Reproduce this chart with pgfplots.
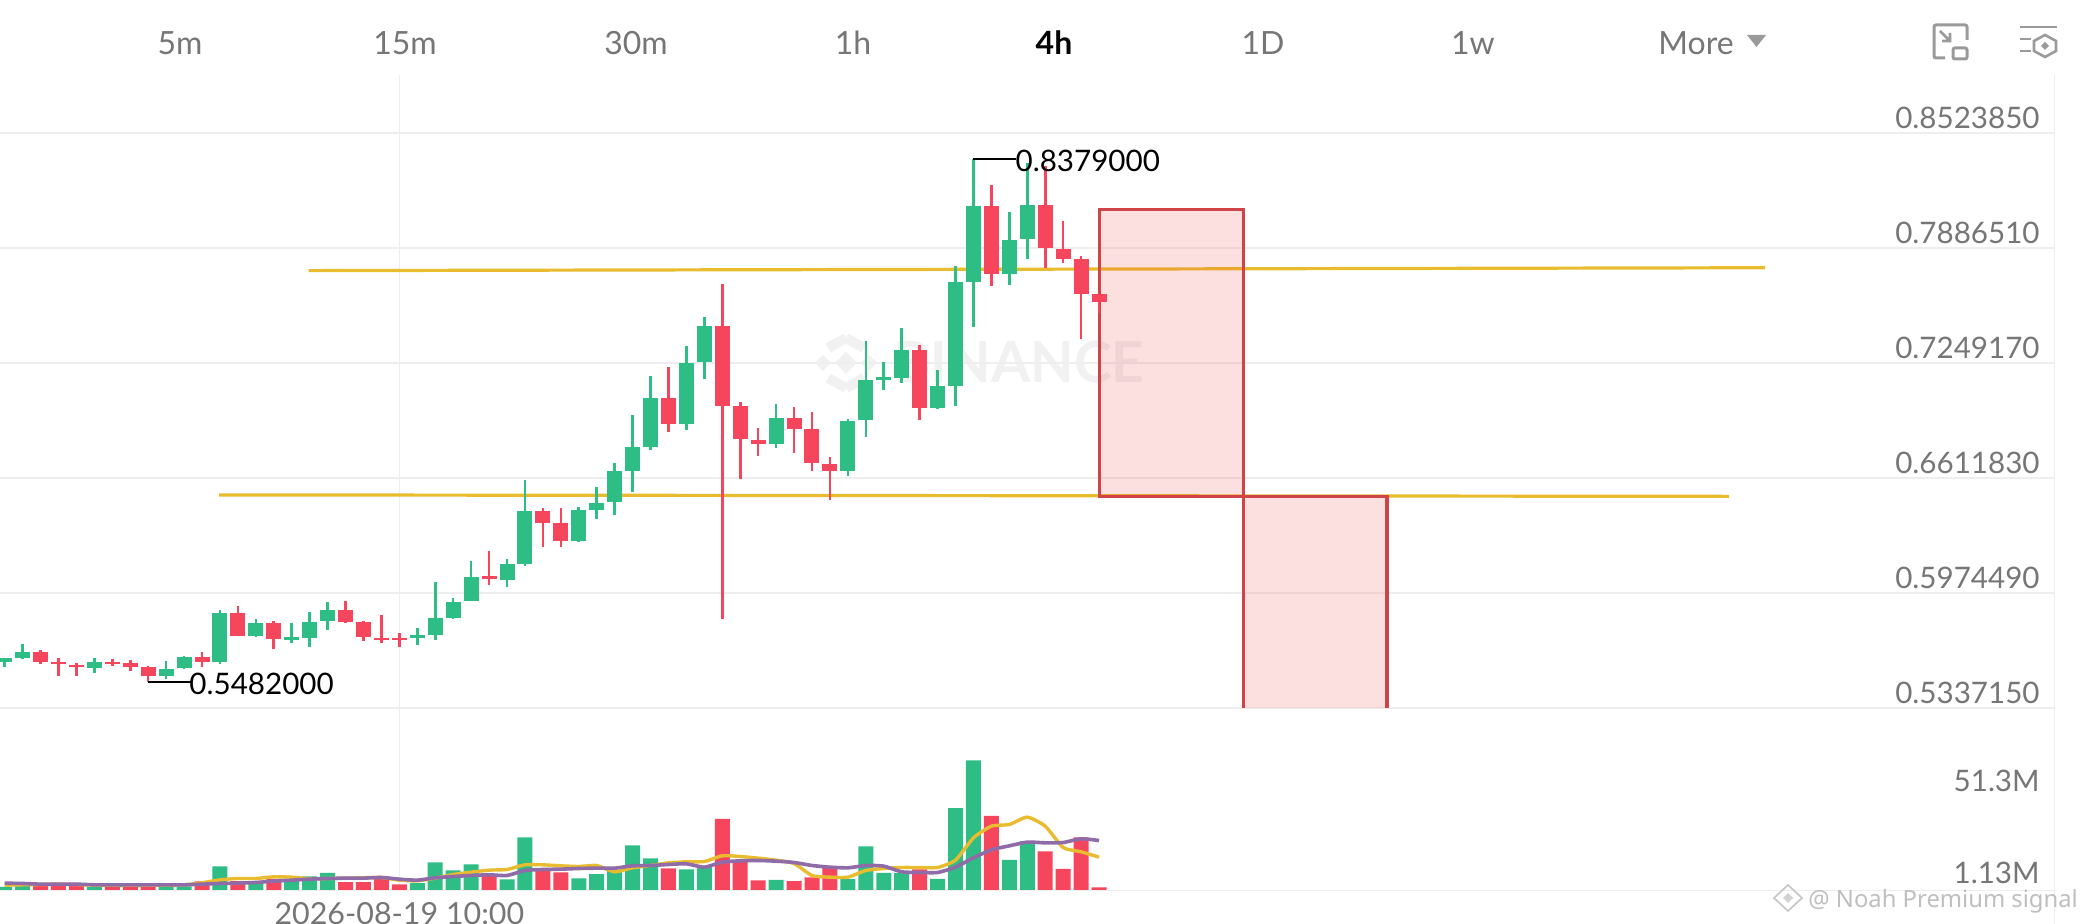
\documentclass[border=0pt]{standalone}
\usepackage{pgfplots}
\usepackage{pgfplotstable}
\pgfplotsset{compat=1.18}
\usepackage{fontspec}
\setmainfont{Lato}
\newfontfamily\wmfont{Noto Sans}
\definecolor{cgreen}{HTML}{2EBD85}
\definecolor{cred}{HTML}{F6465D}
\definecolor{cgold}{HTML}{E9BC2F}
\definecolor{cpurple}{HTML}{8F6BA8}
\definecolor{cgrid}{HTML}{EEEEF0}
\definecolor{clabel}{HTML}{767676}
\definecolor{crect}{HTML}{CF4547}
\definecolor{crfill}{HTML}{F04040}
\definecolor{cwm}{HTML}{F1F1F2}
\definecolor{cicon}{HTML}{9A9A9A}

\pgfplotstableread{
x o h l c
0 .5590 .5612 .5566 .5612
1 .5612 .5690 .5607 .5646
5 .5559 .5612 .5533 .5594
9 .5516 .5598 .5498 .5553
10 .5557 .5627 .5551 .5622
12 .5594 .5878 .5581 .5864
14 .5738 .5832 .5732 .5806
16 .5716 .5808 .5697 .5729
17 .5725 .5867 .5677 .5816
18 .5821 .5923 .5769 .5878
23 .5727 .5779 .5686 .5740
24 .5742 .6035 .5714 .5836
25 .5838 .5945 .5830 .5926
26 .5930 .6154 .5928 .6065
28 .6048 .6161 .6006 .6135
29 .6135 .6601 .6124 .6429
32 .6261 .6451 .6257 .6433
33 .6435 .6560 .6385 .6475
34 .6479 .6697 .6407 .6649
35 .6651 .6959 .6536 .6782
36 .6784 .7179 .6765 .7057
38 .6911 .7343 .6880 .7251
39 .7253 .7504 .7161 .7454
43 .6798 .7024 .6776 .6943
47 .6651 .6937 .6625 .6926
48 .6931 .7369 .6839 .7155
49 .7157 .7253 .7098 .7172
50 .7164 .7441 .7138 .7319
52 .6998 .7210 .6996 .7120
53 .7124 .7787 .7009 .7698
54 .7700 .8379 .7451 .8119
56 .7741 .8084 .7683 .7929
57 .7935 .8356 .7824 .8123
}\greencandles
\pgfplotstableread{
x o h l c
2 .5646 .5659 .5581 .5594
3 .5590 .5612 .5514 .5579
4 .5575 .5585 .5514 .5563
6 .5594 .5607 .5568 .5583
7 .5585 .5603 .5544 .5566
8 .5564 .5568 .5482 .5516
11 .5622 .5648 .5563 .5592
13 .5864 .5902 .5738 .5738
15 .5806 .5821 .5662 .5718
19 .5878 .5932 .5810 .5816
20 .5814 .5817 .5708 .5729
21 .5727 .5854 .5699 .5714
22 .5725 .5751 .5673 .5712
27 .6067 .6209 .6019 .6050
30 .6427 .6446 .6228 .6364
31 .6362 .6446 .6231 .6263
37 .7057 .7225 .6869 .6911
40 .7454 .7685 .5832 .7013
41 .7013 .7031 .6608 .6826
42 .6822 .6891 .6734 .6800
44 .6943 .7007 .6752 .6885
45 .6883 .6976 .6652 .6695
46 .6691 .6726 .6490 .6651
51 .7319 .7347 .6935 .6998
55 .8121 .8234 .7678 .7741
58 .8123 .8340 .7774 .7885
59 .7881 .8034 .7805 .7826
60 .7824 .7840 .7382 .7633
61 .7632 .7632 .7524 .7587
}\redcandles
\pgfplotstableread{
x v
0 3.13
1 3.86
5 2.95
9 3.31
10 3.31
12 14.22
14 5.31
16 6.22
17 8.76
18 10.76
23 5.13
24 16.40
25 12.04
26 15.31
28 7.13
29 30.03
32 7.67
33 10.04
34 12.22
35 25.67
36 18.58
38 12.58
39 14.04
43 6.95
47 7.31
48 25.12
49 10.76
50 10.58
52 7.49
53 46.03
54 72.02
56 17.85
57 28.03
}\greenvol
\pgfplotstableread{
x v
2 3.49
3 4.77
4 4.04
6 2.95
7 3.31
8 3.31
11 6.04
13 6.22
15 7.49
19 5.67
20 5.67
21 8.04
22 4.40
27 10.22
30 11.67
31 10.95
37 13.13
40 40.21
41 17.49
42 6.58
44 6.22
45 8.22
46 13.31
51 12.58
55 41.85
58 22.40
59 12.95
60 30.03
61 2.77
}\redvol
\pgfplotstableread{
x a b
0 4.04 5.13
1 4.22 4.95
2 4.40 4.58
3 4.58 4.58
4 4.40 4.58
5 4.04 4.22
6 4.04 4.22
7 4.04 4.22
8 4.04 4.22
9 4.04 4.22
10 4.22 4.22
11 5.31 4.58
12 6.95 4.95
13 7.67 5.13
14 7.67 5.49
15 8.58 6.22
16 8.40 6.76
17 7.49 7.31
18 7.67 7.67
19 7.86 7.86
20 8.04 7.86
21 8.22 8.22
22 6.76 7.31
23 6.40 6.76
24 7.86 8.04
25 9.85 8.76
26 11.13 9.31
27 12.22 9.67
28 12.58 9.31
29 15.13 12.04
30 15.13 12.58
31 14.58 12.76
32 14.22 13.13
33 14.76 13.31
34 11.31 13.31
35 13.49 14.58
36 14.76 14.76
37 16.22 15.31
38 16.76 15.67
39 16.94 13.85
40 20.03 16.58
41 19.67 17.31
42 18.76 17.49
43 17.67 17.13
44 15.85 16.40
45 9.31 14.76
46 8.40 13.85
47 8.40 13.49
48 12.04 14.76
49 13.13 14.40
50 13.67 11.31
51 13.67 10.95
52 13.67 10.95
53 17.67 13.85
54 29.85 18.94
55 36.21 23.31
56 37.12 25.49
57 41.12 27.49
58 36.21 27.12
59 24.58 27.30
60 22.22 29.30
61 19.31 28.40
}\maltable

\newcommand{\candleset}[2]{%
  \addplot[forget plot, draw=none, mark=none,
    error bars/.cd, y dir=both, y explicit, error mark=none,
    error bar style={line width=1.3pt, #2}]
    table[x=x, y expr=(\thisrow{h}+\thisrow{l})/2, y error expr=(\thisrow{h}-\thisrow{l})/2] {#1};
  \addplot[forget plot, draw=none, mark=none,
    error bars/.cd, y dir=both, y explicit, error mark=none,
    error bar style={line width=7.5pt, #2}]
    table[x=x, y expr=(\thisrow{o}+\thisrow{c})/2, y error expr=abs(\thisrow{o}-\thisrow{c})/2] {#1};
}
\pgfplotsset{
  paneaxis/.style={
    scale only axis, width=1027pt, xmin=-0.26, xmax=114.23,
    axis line style={draw=none}, major tick length=0pt, xtick={22},
    xmajorgrids, major grid style={cgrid, line width=0.8pt},
    yticklabel pos=right,
    tick label style={font=\fontsize{14.8}{16}\selectfont, text=clabel, inner sep=0pt},
  }
}

\begin{document}
\begin{tikzpicture}
\path[use as bounding box, fill=white] (0,0) rectangle (1042.5pt,462pt);

\begin{scope}[shift={(0pt,462pt)}, x=0.5pt, y=-0.5pt]
  % header
  \foreach \tx/\lbl in {180/5m,405/15m,636/30m,853/1h,1263/1D,1473/1w,1696/More}{
    \node[anchor=base, inner sep=0pt, text=clabel, font=\fontsize{16}{17}\selectfont] at (\tx,54.5) {\lbl};
  }
  \node[anchor=base, inner sep=0pt, font=\fontsize{16}{17}\selectfont\bfseries] at (1054,54.5) {4h};
  \fill[cicon] (1747,35) -- (1766,35) -- (1756.5,47) -- cycle;
  % icon 1
  \draw[cicon, line width=1.5pt, rounded corners=1pt] (1945,58) -- (1934,58) -- (1934,25) -- (1967,25) -- (1967,40);
  \draw[cicon, line width=1.5pt, rounded corners=1pt] (1953,48) rectangle (1967,59);
  \draw[cicon, line width=1.3pt] (1940,31) -- (1950,41) (1950,33) -- (1950,41) -- (1942,41);
  % icon 2
  \draw[cicon, line width=1.3pt] (2020,27) -- (2057,27) (2020,39) -- (2031,39) (2020,51) -- (2031,51);
  \draw[cicon, line width=1.3pt] (2045,35) -- (2056,41) -- (2056,51) -- (2045,57) -- (2034,51) -- (2034,41) -- cycle;
  \fill[cicon] (2045,42) -- (2049,46) -- (2045,50) -- (2041,46) -- cycle;
  % exchange watermark
  \begin{scope}[shift={(846,363)}]
    \fill[cwm] (0,-11) -- (11,0) -- (0,11) -- (-11,0) -- cycle;
    \fill[cwm] (-31,0) -- (-23,-8) -- (-15,0) -- (-23,8) -- cycle;
    \fill[cwm] (31,0) -- (23,-8) -- (15,0) -- (23,8) -- cycle;
    \draw[cwm, line width=5pt] (-18,-15) -- (0,-25) (0,-25) -- (18,-15);
    \draw[cwm, line width=5pt] (-18,15) -- (0,25) (0,25) -- (18,15);
  \end{scope}
  \node[anchor=base west, inner sep=0pt, text=cwm, font=\fontsize{28.3}{30}\selectfont\bfseries] at (893,383) {BINANCE};
  % pane edge
  \draw[cgrid, line width=0.8pt] (2054.5,75) -- (2054.5,924);
\end{scope}

% candle pane
\begin{axis}[paneaxis, at={(0pt,108pt)}, anchor=south west, height=316.5pt,
  ymin=0.533715, ymax=0.884529,
  ymajorgrids,
  ytick={0.533715,0.597449,0.661183,0.724917,0.788651,0.852385},
  yticklabels={0.5337150,0.5974490,0.6611830,0.7249170,0.7886510,0.8523850},
  yticklabel style={anchor=base east, xshift=-7pt, yshift=2pt},
  xticklabels={},
]
  \addplot[forget plot, cgold, line width=1.6pt] coordinates {(16.94,.7761) (98.12,.7777)};
  \addplot[forget plot, cgold, line width=1.6pt] coordinates {(11.95,.6518) (96.12,.6510)};
  \addplot[forget plot, draw=crect, line width=1.7pt, fill=crfill, fill opacity=0.16]
    coordinates {(61.04,.6509) (61.04,.8101) (69.04,.8101) (69.04,.6509)} -- cycle;
  \addplot[forget plot, draw=crect, line width=1.7pt, fill=crfill, fill opacity=0.16]
    coordinates {(69.04,.50) (69.04,.6509) (77.05,.6509) (77.05,.50)} -- cycle;
  \candleset{\greencandles}{cgreen}
  \candleset{\redcandles}{cred}
  \draw[black, line width=0.8pt] (axis cs:54,.8379) -- ++(21.5pt,0pt);
  \node[anchor=base west, inner sep=0pt, font=\fontsize{14.8}{16}\selectfont] at (axis cs:56.33,.8379) [yshift=-6pt] {0.8379000};
  \draw[black, line width=0.8pt] (axis cs:8,.5482) -- ++(21.5pt,0pt);
  \node[anchor=base west, inner sep=0pt, font=\fontsize{14.8}{16}\selectfont] at (axis cs:10.28,.5482) [yshift=-6.5pt] {0.5482000};
\end{axis}

% volume pane
\begin{axis}[paneaxis, at={(0pt,16.75pt)}, anchor=south west, height=91.25pt,
  ymin=1.13, ymax=100.65,
  ytick={1.13,51.3}, yticklabels={1.13M,51.3M},
  yticklabel style={anchor=base east, xshift=-7pt, yshift=3.4pt},
  xticklabels={2026-08-19 10:00},
  xticklabel style={anchor=base, yshift=-17pt, font=\fontsize{15.2}{16}\selectfont},
]
  \addplot[forget plot, ybar, bar width=7.5pt, bar shift=0pt, draw=none, fill=cgreen] table[x=x,y=v] {\greenvol};
  \addplot[forget plot, ybar, bar width=7.5pt, bar shift=0pt, draw=none, fill=cred] table[x=x,y=v] {\redvol};
  \addplot[forget plot, cgold, line width=1.7pt, smooth, tension=0.35] table[x=x,y=a] {\maltable};
  \addplot[forget plot, cpurple, line width=1.8pt, smooth, tension=0.35] table[x=x,y=b] {\maltable};
  \draw[cgrid, line width=0.8pt] (rel axis cs:0,0) -- (rel axis cs:1,0);
\end{axis}

\begin{scope}[shift={(0pt,462pt)}, x=0.5pt, y=-0.5pt]
  % image credit
  \begin{scope}[shift={(1788,898)}]
    \draw[gray!45, line width=0.8pt] (-14,0) -- (0,-13) -- (14,0) -- (0,13) -- cycle;
    \fill[gray!35] (0,-5) -- (5,0) -- (0,5) -- (-5,0) -- cycle;
  \end{scope}
  \node[anchor=base west, inner sep=0pt, text=gray!50, font=\wmfont\fontsize{11.9}{13}\selectfont] at (1808,908) {@ Noah Premium signal};
\end{scope}
\end{tikzpicture}
\end{document}
